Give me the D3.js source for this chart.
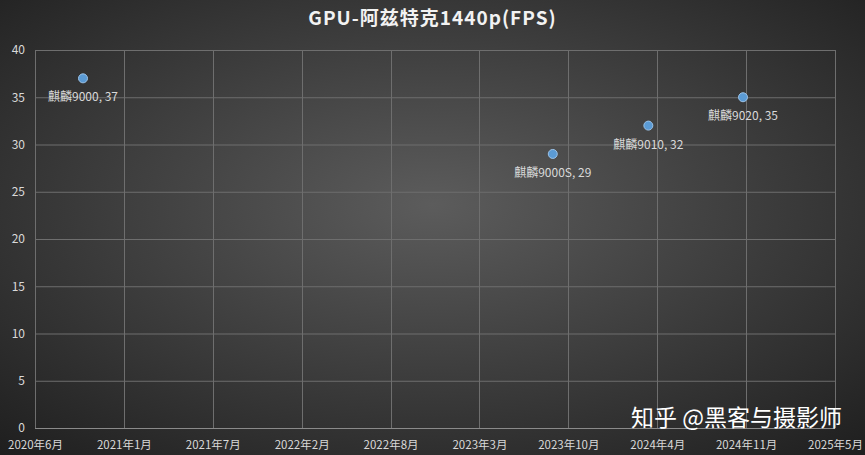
<!DOCTYPE html>
<html><head><meta charset="utf-8">
<script src="https://cdn.jsdelivr.net/npm/d3@7"></script>
<style>body{margin:0;background:#333}svg{display:block}</style>
</head><body><svg id="c" width="865" height="455"></svg>
<script>
const names = ["麒麟9000", "麒麟9000S", "麒麟9010", "麒麟9020"];
const dates = ["2020-10-06", "2023-08-29", "2024-03-31", "2024-10-30"];
const fps = [37, 29, 32, 35];
const xTickLabels = ["2020年6月","2021年1月","2021年7月","2022年2月","2022年8月","2023年3月","2023年10月","2024年4月","2024年11月","2025年5月"];
const yTicks = [0,5,10,15,20,25,30,35,40];
const xStart = "2020-06-20", xStepDays = 200;

const W=865,H=455, m={l:35,r:30,t:50,b:27};
const svg=d3.select("#c");
const defs=svg.append("defs");
const g=defs.append("radialGradient").attr("id","bg").attr("cx","50%").attr("cy","45%").attr("r","75%");
g.append("stop").attr("offset","0%").attr("stop-color","#5c5c5c");
g.append("stop").attr("offset","100%").attr("stop-color","#1e1e1e");
svg.append("rect").attr("width",W).attr("height",H).attr("fill","url(#bg)");

const parse=d3.utcParse("%Y-%m-%d");
const t0=parse(xStart);
const tickDates=xTickLabels.map((_,i)=>new Date(+t0+i*xStepDays*864e5));
const x=d3.scaleUtc().domain([tickDates[0],tickDates[tickDates.length-1]]).range([m.l,W-m.r]);
const y=d3.scaleLinear().domain([0,40]).range([H-m.b,m.t]);

const grid=svg.append("g").attr("stroke","#6e6e6e").attr("stroke-width",1);
yTicks.forEach(v=>grid.append("line").attr("x1",m.l).attr("x2",W-m.r).attr("y1",y(v)+.5).attr("y2",y(v)+.5));
tickDates.forEach(d=>grid.append("line").attr("x1",Math.round(x(d))+.5).attr("x2",Math.round(x(d))+.5).attr("y1",m.t).attr("y2",H-m.b));
svg.append("line").attr("x1",m.l).attr("x2",W-m.r).attr("y1",y(0)+.5).attr("y2",y(0)+.5).attr("stroke","#8a8a8a");

const yAx=svg.append("g").attr("transform",`translate(${m.l},0)`).call(d3.axisLeft(y).tickValues(yTicks).tickSize(0).tickPadding(10));
yAx.select(".domain").remove();
yAx.selectAll("text").attr("fill","#d9d9d9").attr("font-size",12).attr("font-family","Noto Sans CJK SC, sans-serif");
const xAx=svg.append("g").attr("transform",`translate(0,${H-m.b})`).call(d3.axisBottom(x).tickValues(tickDates).tickSize(0).tickPadding(13).tickFormat((d,i)=>xTickLabels[i]));
xAx.select(".domain").remove();
xAx.selectAll("text").attr("fill","#d9d9d9").attr("font-size",11.5).attr("font-family","Noto Sans CJK SC, sans-serif");

const pts=names.map((n,i)=>({n,d:parse(dates[i]),v:fps[i]}));
svg.selectAll("circle.p").data(pts).join("circle").attr("cx",d=>x(d.d)).attr("cy",d=>y(d.v)).attr("r",4.5)
  .attr("fill","#5b9bd5").attr("stroke","#9cc3e8").attr("stroke-width",1);
svg.selectAll("text.l").data(pts).join("text").attr("x",d=>x(d.d)).attr("y",d=>y(d.v)+23)
  .attr("text-anchor","middle").attr("fill","#d9d9d9").attr("font-size",12).attr("font-family","Noto Sans CJK SC, sans-serif")
  .text(d=>`${d.n}, ${d.v}`);

svg.append("text").attr("x",W/2).attr("y",25).attr("text-anchor","middle").attr("fill","#f2f2f2").attr("font-size",19).attr("font-weight","bold")
  .attr("font-family","Noto Sans CJK SC, sans-serif").attr("letter-spacing",1).text("GPU-阿兹特克1440p(FPS)");
svg.append("text").attr("x",842).attr("y",426).attr("text-anchor","end").attr("fill","#ffffff").attr("font-size",23)
  .attr("font-family","Noto Sans CJK SC, sans-serif").text("知乎 @黑客与摄影师");
</script></body></html>
